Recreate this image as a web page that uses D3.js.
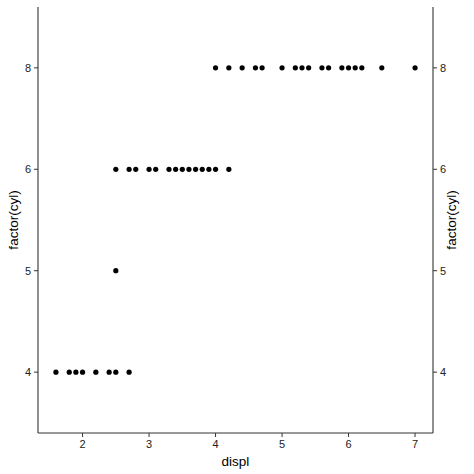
<!DOCTYPE html>
<html><head><meta charset="utf-8">
<script src="https://cdn.jsdelivr.net/npm/d3@7"></script>
<style>body{margin:0;background:#fff}text{font-family:"Liberation Sans",Arial,sans-serif}</style>
</head><body><svg id="c" width="474" height="474"></svg>
<script>
const cylLevels = ["4","5","6","8"];
const displ4 = [1.6,1.8,1.9,2.0,2.2,2.4,2.5,2.7];
const displ5 = [2.5];
const displ6 = [2.5,2.7,2.8,3.0,3.1,3.3,3.4,3.5,3.6,3.7,3.8,3.9,4.0,4.2];
const displ8 = [4.0,4.2,4.4,4.6,4.7,5.0,5.2,5.3,5.4,5.6,5.7,5.9,6.0,6.1,6.2,6.5,7.0];
const xTicks = [2,3,4,5,6,7];
const data = [];
[[displ4,"4"],[displ5,"5"],[displ6,"6"],[displ8,"8"]].forEach(([a,c])=>a.forEach(d=>data.push({displ:d,cyl:c})));

const svg = d3.select("#c");
const L=38,R=433,T=7,B=433;
const x = d3.scaleLinear().domain([1.6-0.27,7.0+0.27]).range([L,R]);
const yIdx = d3.scaleLinear().domain([0.4,3.6]).range([B,T]);
const y = c => yIdx(cylLevels.indexOf(c)+1-1+0+ (1) -1 + 1 - 1 + 1) ; // level index 1..4
const yPos = c => yIdx(cylLevels.indexOf(c));
yIdx.domain([-0.6,3.6]);

const g = svg.append("g");
g.append("line").attr("x1",L).attr("x2",R).attr("y1",B).attr("y2",B).attr("stroke","#333").attr("stroke-width",1.1);
g.append("line").attr("x1",L).attr("x2",L).attr("y1",T).attr("y2",B).attr("stroke","#333").attr("stroke-width",1.1);
g.append("line").attr("x1",R).attr("x2",R).attr("y1",T).attr("y2",B).attr("stroke","#333").attr("stroke-width",1.1);

xTicks.forEach(t=>{
  g.append("line").attr("x1",x(t)).attr("x2",x(t)).attr("y1",B).attr("y2",B+4).attr("stroke","#333");
  g.append("text").attr("x",x(t)).attr("y",B+15).attr("text-anchor","middle").attr("font-size",11).attr("fill","#222").text(t);
});
cylLevels.forEach(c=>{
  const yy=yPos(c);
  g.append("line").attr("x1",L-4).attr("x2",L).attr("y1",yy).attr("y2",yy).attr("stroke","#333");
  g.append("line").attr("x1",R).attr("x2",R+4).attr("y1",yy).attr("y2",yy).attr("stroke","#333");
  g.append("text").attr("x",L-7).attr("y",yy+4).attr("text-anchor","end").attr("font-size",11).attr("fill","#222").text(c);
  g.append("text").attr("x",R+7).attr("y",yy+4).attr("text-anchor","start").attr("font-size",11).attr("fill","#222").text(c);
});
g.append("text").attr("x",(L+R)/2).attr("y",466).attr("text-anchor","middle").attr("font-size",13.5).text("displ");
g.append("text").attr("transform",`translate(18,${(T+B)/2}) rotate(-90)`).attr("text-anchor","middle").attr("font-size",13.5).text("factor(cyl)");
g.append("text").attr("transform",`translate(456,${(T+B)/2}) rotate(-90)`).attr("text-anchor","middle").attr("font-size",13.5).text("factor(cyl)");

g.selectAll("circle").data(data).join("circle")
  .attr("cx",d=>x(d.displ)).attr("cy",d=>yPos(d.cyl)).attr("r",2.6).attr("fill","#000");
</script></body></html>
